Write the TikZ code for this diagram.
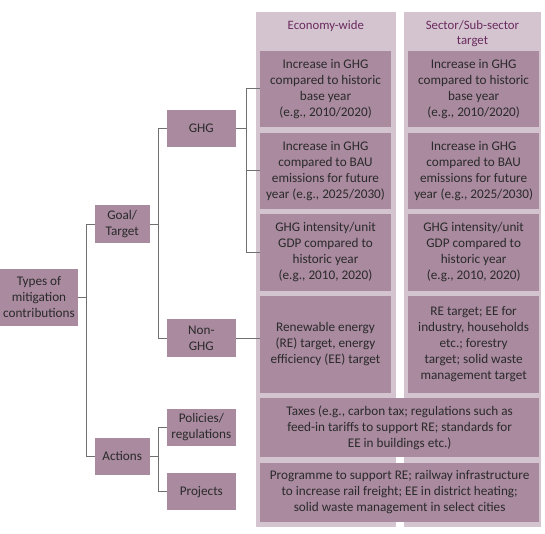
\documentclass[tikz,border=0pt]{standalone}
\usepackage{fontspec}
\setmainfont{Carlito}
\definecolor{boxfill}{HTML}{A98A9F}
\definecolor{colfill}{HTML}{D3C4CF}
\definecolor{headtext}{HTML}{6A2A60}
\definecolor{boxtext}{HTML}{2A2A2A}
\definecolor{linegray}{HTML}{707070}
\tikzset{
  box/.style={fill=boxfill, draw=none, inner sep=0pt, align=center, text=boxtext,
    font=\fontsize{13.2}{16}\selectfont},
  colbg/.style={fill=colfill, draw=none},
  head/.style={align=center, text=headtext, font=\fontsize{12.8}{15}\selectfont},
  conn/.style={draw=linegray, line width=0.9pt}
}
\newcommand{\bx}[7]{% name, x1, y1, x2, y2, text, extra
  \node[box, minimum width={(#4-#2)*1pt}, minimum height={(#5-#3)*1pt}, #7] (#1) at ({(#2+#4)/2},{(#3+#5)/2}) {#6};}
\begin{document}
\begin{tikzpicture}[x=1pt, y=-1pt]
\useasboundingbox (0,0) rectangle (545,533);
% column backgrounds
\fill[colbg] (255.7,12.3) rectangle (396,526.7);
\fill[colbg] (404,12.3) rectangle (541,526.7);
\node[head] (h1) at (325.8,26) {Economy-wide};
\node[head] (h2) at (472.5,33.5) {Sector/Sub-sector\\target};
% left tree
\bx{types}{0}{269.3}{78}{325.7}{Types of\\mitigation\\contributions}{}
\bx{goal}{94.7}{205.3}{149.7}{242.7}{Goal/\\Target}{}
\bx{actions}{94.7}{437.7}{149.7}{475}{Actions}{}
\bx{ghg}{166.7}{110}{236}{147}{GHG}{}
\bx{nonghg}{166.7}{319.3}{236}{356.7}{Non-\\GHG}{}
\bx{policies}{166.7}{409}{236}{445.7}{Policies/\\regulations}{}
\bx{projects}{166.7}{473.3}{236}{510}{Projects}{}
% economy-wide column
\bx{e1}{260}{50.7}{391}{126.7}{Increase in GHG\\compared to historic\\base year\\(e.g., 2010/2020)}{}
\bx{e2}{260}{132.7}{391}{209}{Increase in GHG\\compared to BAU\\emissions for future\\year (e.g., 2025/2030)}{}
\bx{e3}{260}{214.3}{391}{290.7}{GHG intensity/unit\\GDP compared to\\historic year\\(e.g., 2010, 2020)}{}
\bx{e4}{260}{296}{391}{392.7}{Renewable energy\\(RE) target, energy\\efficiency (EE) target}{}
% sector column
\bx{s1}{408}{50.7}{539.3}{126.7}{Increase in GHG\\compared to historic\\base year\\(e.g., 2010/2020)}{}
\bx{s2}{408}{132.7}{539.3}{209}{Increase in GHG\\compared to BAU\\emissions for future\\year (e.g., 2025/2030)}{}
\bx{s3}{408}{214.3}{539.3}{290.7}{GHG intensity/unit\\GDP compared to\\historic year\\(e.g., 2010, 2020)}{}
\bx{s4}{408}{296}{539.3}{392.7}{RE target; EE for\\industry, households\\etc.; forestry\\target; solid waste\\management target}{}
% actions rows
\bx{taxes}{260}{398.3}{539.3}{456.7}{Taxes (e.g., carbon tax; regulations such as\\feed-in tariffs to support RE; standards for\\EE in buildings etc.)}{}
\bx{prog}{260}{462.7}{539.3}{521.7}{Programme to support RE; railway infrastructure\\to increase rail freight; EE in district heating;\\solid waste management in select cities}{}
% bus coordinates
\coordinate (b1) at (86,0);
\coordinate (b2) at (158.3,0);
\coordinate (b3) at (246.7,0);
% connectors
\draw[conn] (types.east) -- (types.east -| b1);
\draw[conn] (goal.west) -- (goal.west -| b1) |- (actions.west);
\draw[conn] (goal.east) -- (goal.east -| b2);
\draw[conn] (ghg.west) -- (ghg.west -| b2) |- (nonghg.west);
\draw[conn] (actions.east) -- (actions.east -| b2);
\draw[conn] (policies.west) -- (policies.west -| b2) |- (projects.west);
\draw[conn] (ghg.east) -- (ghg.east -| b3);
\draw[conn] (e1.west) -- (e1.west -| b3) |- (e3.west);
\draw[conn] (e2.west) -- (e2.west -| b3);
\draw[conn] (nonghg.east) -- (nonghg.east -| e4.west);
\end{tikzpicture}
\end{document}
